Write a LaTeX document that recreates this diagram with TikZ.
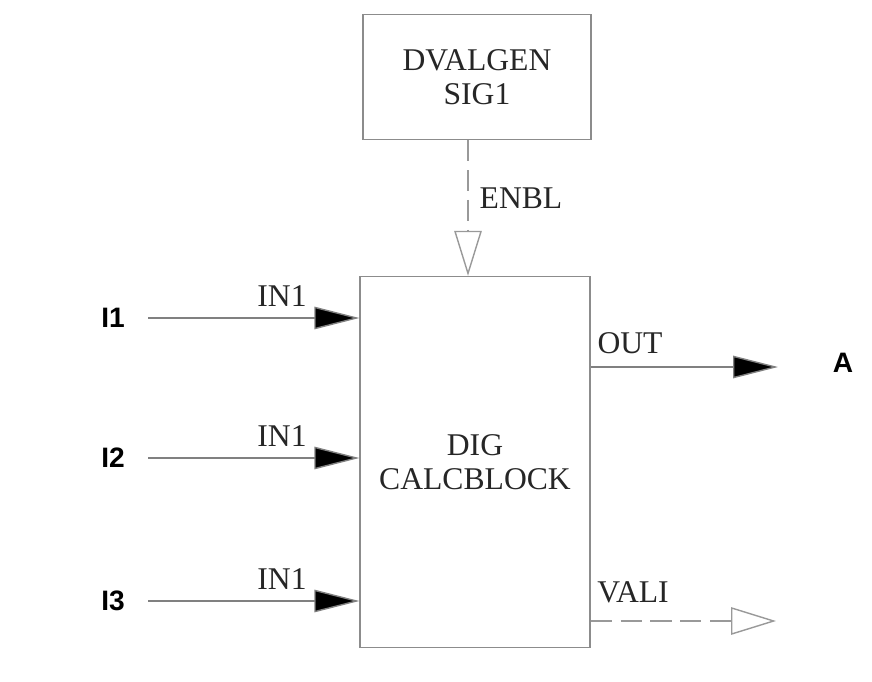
\documentclass[tikz,border=0pt]{standalone}
\usepackage{fontspec}
\setmainfont{Liberation Serif}
\newfontfamily\sansf{Liberation Sans}
\usetikzlibrary{arrows.meta, positioning}
\tikzstyle{block} = [rectangle, draw=black!45, thick, font=\fontsize{18}{19}\selectfont, align=center, inner sep=0pt, text=black!85]
\tikzstyle{pin} = [font=\fontsize{18}{19}\selectfont, text=black!85]
\tikzstyle{port} = [font=\sansf\bfseries\fontsize{16}{18}\selectfont]
\tikzstyle{aro} = [draw=black!50, thick, -{Triangle[length=0.9cm, width=0.45cm, fill=black]}]
\tikzstyle{haro} = [draw=black!40, thick, dashed, dash pattern=on 12pt off 5pt, -{Triangle[open, length=0.9cm, width=0.55cm]}]

\begin{document}
\begin{tikzpicture}[x=0.02cm, y=-0.02cm]
  \useasboundingbox (0,0) rectangle (872,682);

  \node (gen) [block, minimum width=4.56cm, minimum height=2.5cm] at (477,77) {DVALGEN\\SIG1};
  \node (calc) [block, minimum width=4.6cm, minimum height=7.42cm] at (475,462) {DIG\\CALCBLOCK};

  \draw [haro] (gen.south -| 468,0) -- (calc.north -| 468,0);
  \node [pin] at (521,198) {ENBL};

  % inputs
  \foreach \n/\y in {1/318, 2/458, 3/601} {
    \node (i\n) [port] at (113,\y) {I\n};
    \coordinate (s\n) at (148,\y);
    \draw [aro] (s\n) -- (calc.west |- s\n);
    \node [pin] at (282,\y-22) {IN1};
  }

  % outputs
  \node (a) [port] at (843,363) {A};
  \coordinate (o) at (778,367);
  \draw [aro] (calc.east |- o) -- (o);
  \node [pin] at (630,343) {OUT};

  \coordinate (v) at (776,621);
  \draw [haro] (calc.east |- v) -- (v);
  \node [pin] at (633,592) {VALI};
\end{tikzpicture}
\end{document}
